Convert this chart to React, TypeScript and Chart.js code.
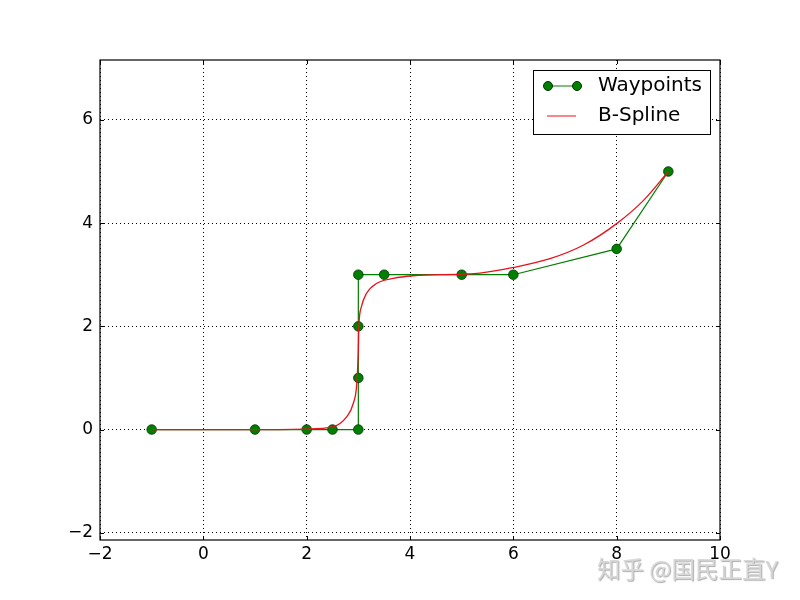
import React, { useEffect, useRef } from "react";
import { Chart, registerables } from "chart.js";

Chart.register(...registerables);

const waypointX = [-1, 1, 2, 2.5, 3, 3, 3, 3, 3.5, 5, 6, 8, 9];
const waypointY = [0, 0, 0, 0, 0, 1, 2, 3, 3, 3, 3, 3.5, 5];

const splineX = [-1, 0, 1, 2, 2.5, 2.77, 2.9, 2.97, 3.0, 3.01, 3.06, 3.16, 3.35, 3.68, 4.06, 5.0, 5.35, 6.0, 6.71, 7.35, 8.0, 8.52, 9.0];
const splineY = [0, 0, 0, 0.01, 0.05, 0.24, 0.5, 0.89, 1.54, 1.99, 2.38, 2.64, 2.83, 2.93, 2.98, 3.01, 3.03, 3.14, 3.31, 3.57, 3.99, 4.44, 5.0];

const legendLabels = ["Waypoints", "B-Spline"];
const watermark = "知乎 @国民正直Y";

const X_MIN = -2;
const X_MAX = 10;
const Y_MIN = -2.14;
const Y_MAX = 7.16;

const GREEN = "#007f00";
const RED = "#e8111b";
const FONT = "'DejaVu Sans', sans-serif";

const decorPlugin = {
  id: "decor",
  afterDraw(chart: any) {
    const ctx = chart.ctx;
    const a = chart.chartArea;
    const xs = chart.scales.x;
    const ys = chart.scales.y;
    ctx.save();
    // frame
    ctx.strokeStyle = "#000";
    ctx.lineWidth = 1.2;
    ctx.strokeRect(a.left, a.top, a.right - a.left, a.bottom - a.top);
    // inside ticks
    ctx.lineWidth = 1;
    const tl = 4;
    xs.ticks.forEach((t: any) => {
      const px = Math.round(xs.getPixelForValue(t.value)) + 0.5;
      ctx.beginPath();
      ctx.moveTo(px, a.bottom);
      ctx.lineTo(px, a.bottom - tl);
      ctx.moveTo(px, a.top);
      ctx.lineTo(px, a.top + tl);
      ctx.stroke();
    });
    ys.ticks.forEach((t: any) => {
      const py = Math.round(ys.getPixelForValue(t.value)) + 0.5;
      ctx.beginPath();
      ctx.moveTo(a.left, py);
      ctx.lineTo(a.left + tl, py);
      ctx.moveTo(a.right, py);
      ctx.lineTo(a.right - tl, py);
      ctx.stroke();
    });
    // legend
    const lx = 533.5, ly = 70.5, lw = 177, lh = 64;
    ctx.fillStyle = "#fff";
    ctx.fillRect(lx, ly, lw, lh);
    ctx.strokeStyle = "#000";
    ctx.lineWidth = 1;
    ctx.strokeRect(lx, ly, lw, lh);
    const r1 = 86, r2 = 116;
    ctx.strokeStyle = GREEN;
    ctx.beginPath();
    ctx.moveTo(548, r1);
    ctx.lineTo(577, r1);
    ctx.stroke();
    [548, 577].forEach((px) => {
      ctx.beginPath();
      ctx.arc(px, r1, 4.5, 0, Math.PI * 2);
      ctx.fillStyle = GREEN;
      ctx.fill();
      ctx.strokeStyle = "#003300";
      ctx.stroke();
    });
    ctx.strokeStyle = RED;
    ctx.beginPath();
    ctx.moveTo(547, r2);
    ctx.lineTo(576, r2);
    ctx.stroke();
    ctx.fillStyle = "#000";
    ctx.font = `20px ${FONT}`;
    ctx.textBaseline = "middle";
    ctx.textAlign = "left";
    ctx.fillText(legendLabels[0], 598, r1);
    ctx.fillText(legendLabels[1], 598, r2);
    // watermark
    ctx.font = "23.5px 'Noto Sans CJK SC', sans-serif";
    ctx.textBaseline = "alphabetic";
    ctx.shadowColor = "rgba(110,110,110,0.6)";
    ctx.shadowOffsetX = 1;
    ctx.shadowOffsetY = 1;
    ctx.shadowBlur = 1;
    ctx.fillStyle = "rgba(215,215,215,0.95)";
    ctx.fillText(watermark, 597, 578);
    ctx.restore();
  },
};

export default function App() {
  const ref = useRef<HTMLCanvasElement>(null);
  useEffect(() => {
    if (!ref.current) return;
    const chart = new Chart(ref.current, {
      type: "scatter",
      data: {
        datasets: [
          {
            label: legendLabels[1],
            data: splineX.map((x, i) => ({ x, y: splineY[i] })),
            showLine: true,
            borderColor: RED,
            borderWidth: 1.3,
            pointRadius: 0,
            cubicInterpolationMode: "monotone",
            order: 0,
          },
          {
            label: legendLabels[0],
            data: waypointX.map((x, i) => ({ x, y: waypointY[i] })),
            showLine: true,
            borderColor: GREEN,
            borderWidth: 1.2,
            backgroundColor: GREEN,
            pointBackgroundColor: GREEN,
            pointBorderColor: "#003300",
            pointBorderWidth: 0.8,
            pointRadius: 4.8,
            tension: 0,
            order: 1,
          },
        ],
      },
      options: {
        animation: false,
        responsive: false,
        devicePixelRatio: 1,
        layout: { padding: { left: 0, top: 60, right: 80, bottom: 0 } },
        plugins: { legend: { display: false }, tooltip: { enabled: false } },
        scales: {
          x: {
            type: "linear",
            min: X_MIN,
            max: X_MAX,
            afterFit: (s: any) => {
              s.height = 60;
            },
            ticks: {
              stepSize: 2,
              color: "#000",
              padding: 4,
              font: { family: FONT, size: 17 },
              callback: (v: any) => String(v).replace("-", "\u2212"),
            },
            grid: { color: "#000", lineWidth: 1, drawTicks: false },
            border: { display: false, dash: [1, 3] },
          },
          y: {
            type: "linear",
            min: Y_MIN,
            max: Y_MAX,
            afterFit: (s: any) => {
              s.width = 100;
            },
            ticks: {
              stepSize: 2,
              includeBounds: false,
              color: "#000",
              padding: 7,
              font: { family: FONT, size: 17 },
              callback: (v: any) => String(v).replace("-", "\u2212"),
            },
            grid: { color: "#000", lineWidth: 1, drawTicks: false },
            border: { display: false, dash: [1, 3] },
          },
        },
      },
      plugins: [decorPlugin],
    } as any);
    return () => chart.destroy();
  }, []);
  return (
    <div style={{ position: "fixed", left: 0, top: 0, width: 800, height: 600, background: "#fff" }}>
      <canvas ref={ref} width={800} height={600} style={{ width: 800, height: 600 }} />
    </div>
  );
}
